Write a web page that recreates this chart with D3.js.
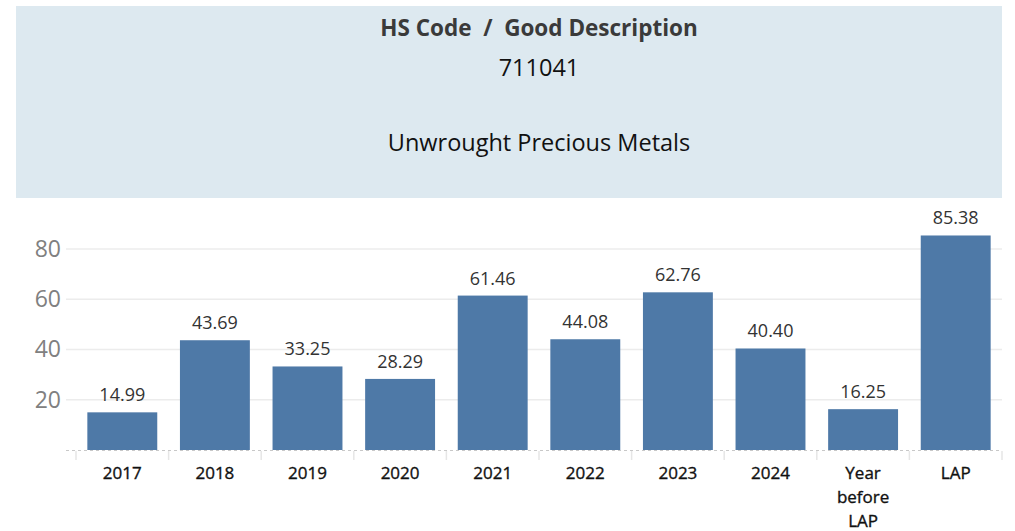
<!DOCTYPE html>
<html>
<head>
<meta charset="utf-8">
<script src="https://cdn.jsdelivr.net/npm/d3@7"></script>
<style>
  body { margin: 0; background: #fff; }
  svg { display: block; }
</style>
</head>
<body>
<script>
const categories = ["2017", "2018", "2019", "2020", "2021", "2022", "2023", "2024", "Year before LAP", "LAP"]
const values = [14.99, 43.69, 33.25, 28.29, 61.46, 44.08, 62.76, 40.40, 16.25, 85.38]
const yTicks = [20, 40, 60, 80]
const headerLines = ["HS Code  /  Good Description", "711041", "Unwrought Precious Metals"]

const width = 1015, height = 531
const plot = { left: 76, right: 1002, top: 200, bottom: 450 }
const headFont = "'Open Sans', sans-serif"

const svg = d3.select("body")
    .append("svg")
    .attr("width", width)
    .attr("height", height)

// header panel
svg.append("rect")
    .attr("x", 16).attr("y", 6)
    .attr("width", 986).attr("height", 192)
    .attr("fill", "#dde9f0")

svg.append("text")
    .attr("x", 539).attr("y", 36)
    .attr("text-anchor", "middle")
    .style("font-family", headFont)
    .style("font-weight", "bold")
    .style("font-size", "22.5px")
    .style("white-space", "pre")
    .attr("fill", "#3a3a3a")
    .text(headerLines[0])

svg.append("text")
    .attr("x", 539).attr("y", 76)
    .attr("text-anchor", "middle")
    .style("font-family", headFont)
    .style("font-size", "23.5px")
    .attr("fill", "#111")
    .text(headerLines[1])

svg.append("text")
    .attr("x", 539).attr("y", 151)
    .attr("text-anchor", "middle")
    .style("font-family", headFont)
    .style("font-size", "23.5px")
    .attr("fill", "#111")
    .text(headerLines[2])

const xScale = d3.scaleBand()
    .domain(categories)
    .range([plot.left, plot.right])
    .paddingInner(0.245)
    .paddingOuter(0.1225)

const yScale = d3.scaleLinear()
    .domain([0, 80])
    .range([plot.bottom, 249])

// gridlines
svg.append("g")
    .selectAll("line")
    .data(yTicks)
    .join("line")
    .attr("x1", 66).attr("x2", 1002)
    .attr("y1", d => yScale(d)).attr("y2", d => yScale(d))
    .attr("stroke", "#ececec")
    .attr("stroke-width", 1.5)

// y axis labels
const yaxis = d3.axisLeft(yScale).tickValues(yTicks).tickSize(0).tickPadding(0)
svg.append("g")
    .attr("transform", `translate(61,0)`)
    .call(yaxis)
    .call(g => g.select(".domain").remove())
    .selectAll("text")
    .style("font-family", "'Open Sans', sans-serif")
    .style("font-size", "23px")
    .style("font-weight", "normal")
    .attr("fill", "#808080")

// bars
svg.append("g")
    .selectAll("rect")
    .data(values)
    .join("rect")
    .attr("x", (d, i) => xScale(categories[i]))
    .attr("y", d => yScale(d))
    .attr("width", xScale.bandwidth())
    .attr("height", d => yScale(0) - yScale(d))
    .attr("fill", "#4e79a7")

// value labels
svg.append("g")
    .selectAll("text")
    .data(values)
    .join("text")
    .attr("x", (d, i) => xScale(categories[i]) + xScale.bandwidth() / 2)
    .attr("y", d => yScale(d) - 11)
    .attr("text-anchor", "middle")
    .style("font-family", "'Open Sans', sans-serif")
    .style("font-size", "18px")
    .attr("fill", "#333")
    .text(d => d.toFixed(2))

// baseline and separators
svg.append("line")
    .attr("x1", 66).attr("x2", 1002)
    .attr("y1", yScale(0) + 0.5).attr("y2", yScale(0) + 0.5)
    .attr("stroke", "#c8c8c8")
    .attr("stroke-dasharray", "3,3")

const seps = categories.map(c => xScale(c) - xScale.step() * xScale.paddingInner() / 2).concat([plot.right])
svg.append("g")
    .selectAll("line")
    .data(seps)
    .join("line")
    .attr("x1", d => d).attr("x2", d => d)
    .attr("y1", yScale(0) + 1).attr("y2", yScale(0) + 10)
    .attr("stroke", "#e6e6e6")
    .attr("stroke-width", 1.5)

// x labels
const xlab = svg.append("g")
    .selectAll("text")
    .data(categories)
    .join("text")
    .attr("x", d => xScale(d) + xScale.bandwidth() / 2)
    .attr("y", 479)
    .attr("text-anchor", "middle")
    .style("font-family", "'Open Sans', sans-serif")
    .style("font-size", "17px")
    .attr("fill", "#111")
    .attr("stroke", "#111")
    .attr("stroke-width", 0.35)

xlab.each(function (d) {
    const words = d === "Year before LAP" ? ["Year", "before", "LAP"] : [d]
    d3.select(this).selectAll("tspan")
        .data(words)
        .join("tspan")
        .attr("x", xScale(d) + xScale.bandwidth() / 2)
        .attr("dy", (w, i) => i === 0 ? 0 : 24)
        .text(w => w)
})
</script>
</body>
</html>
